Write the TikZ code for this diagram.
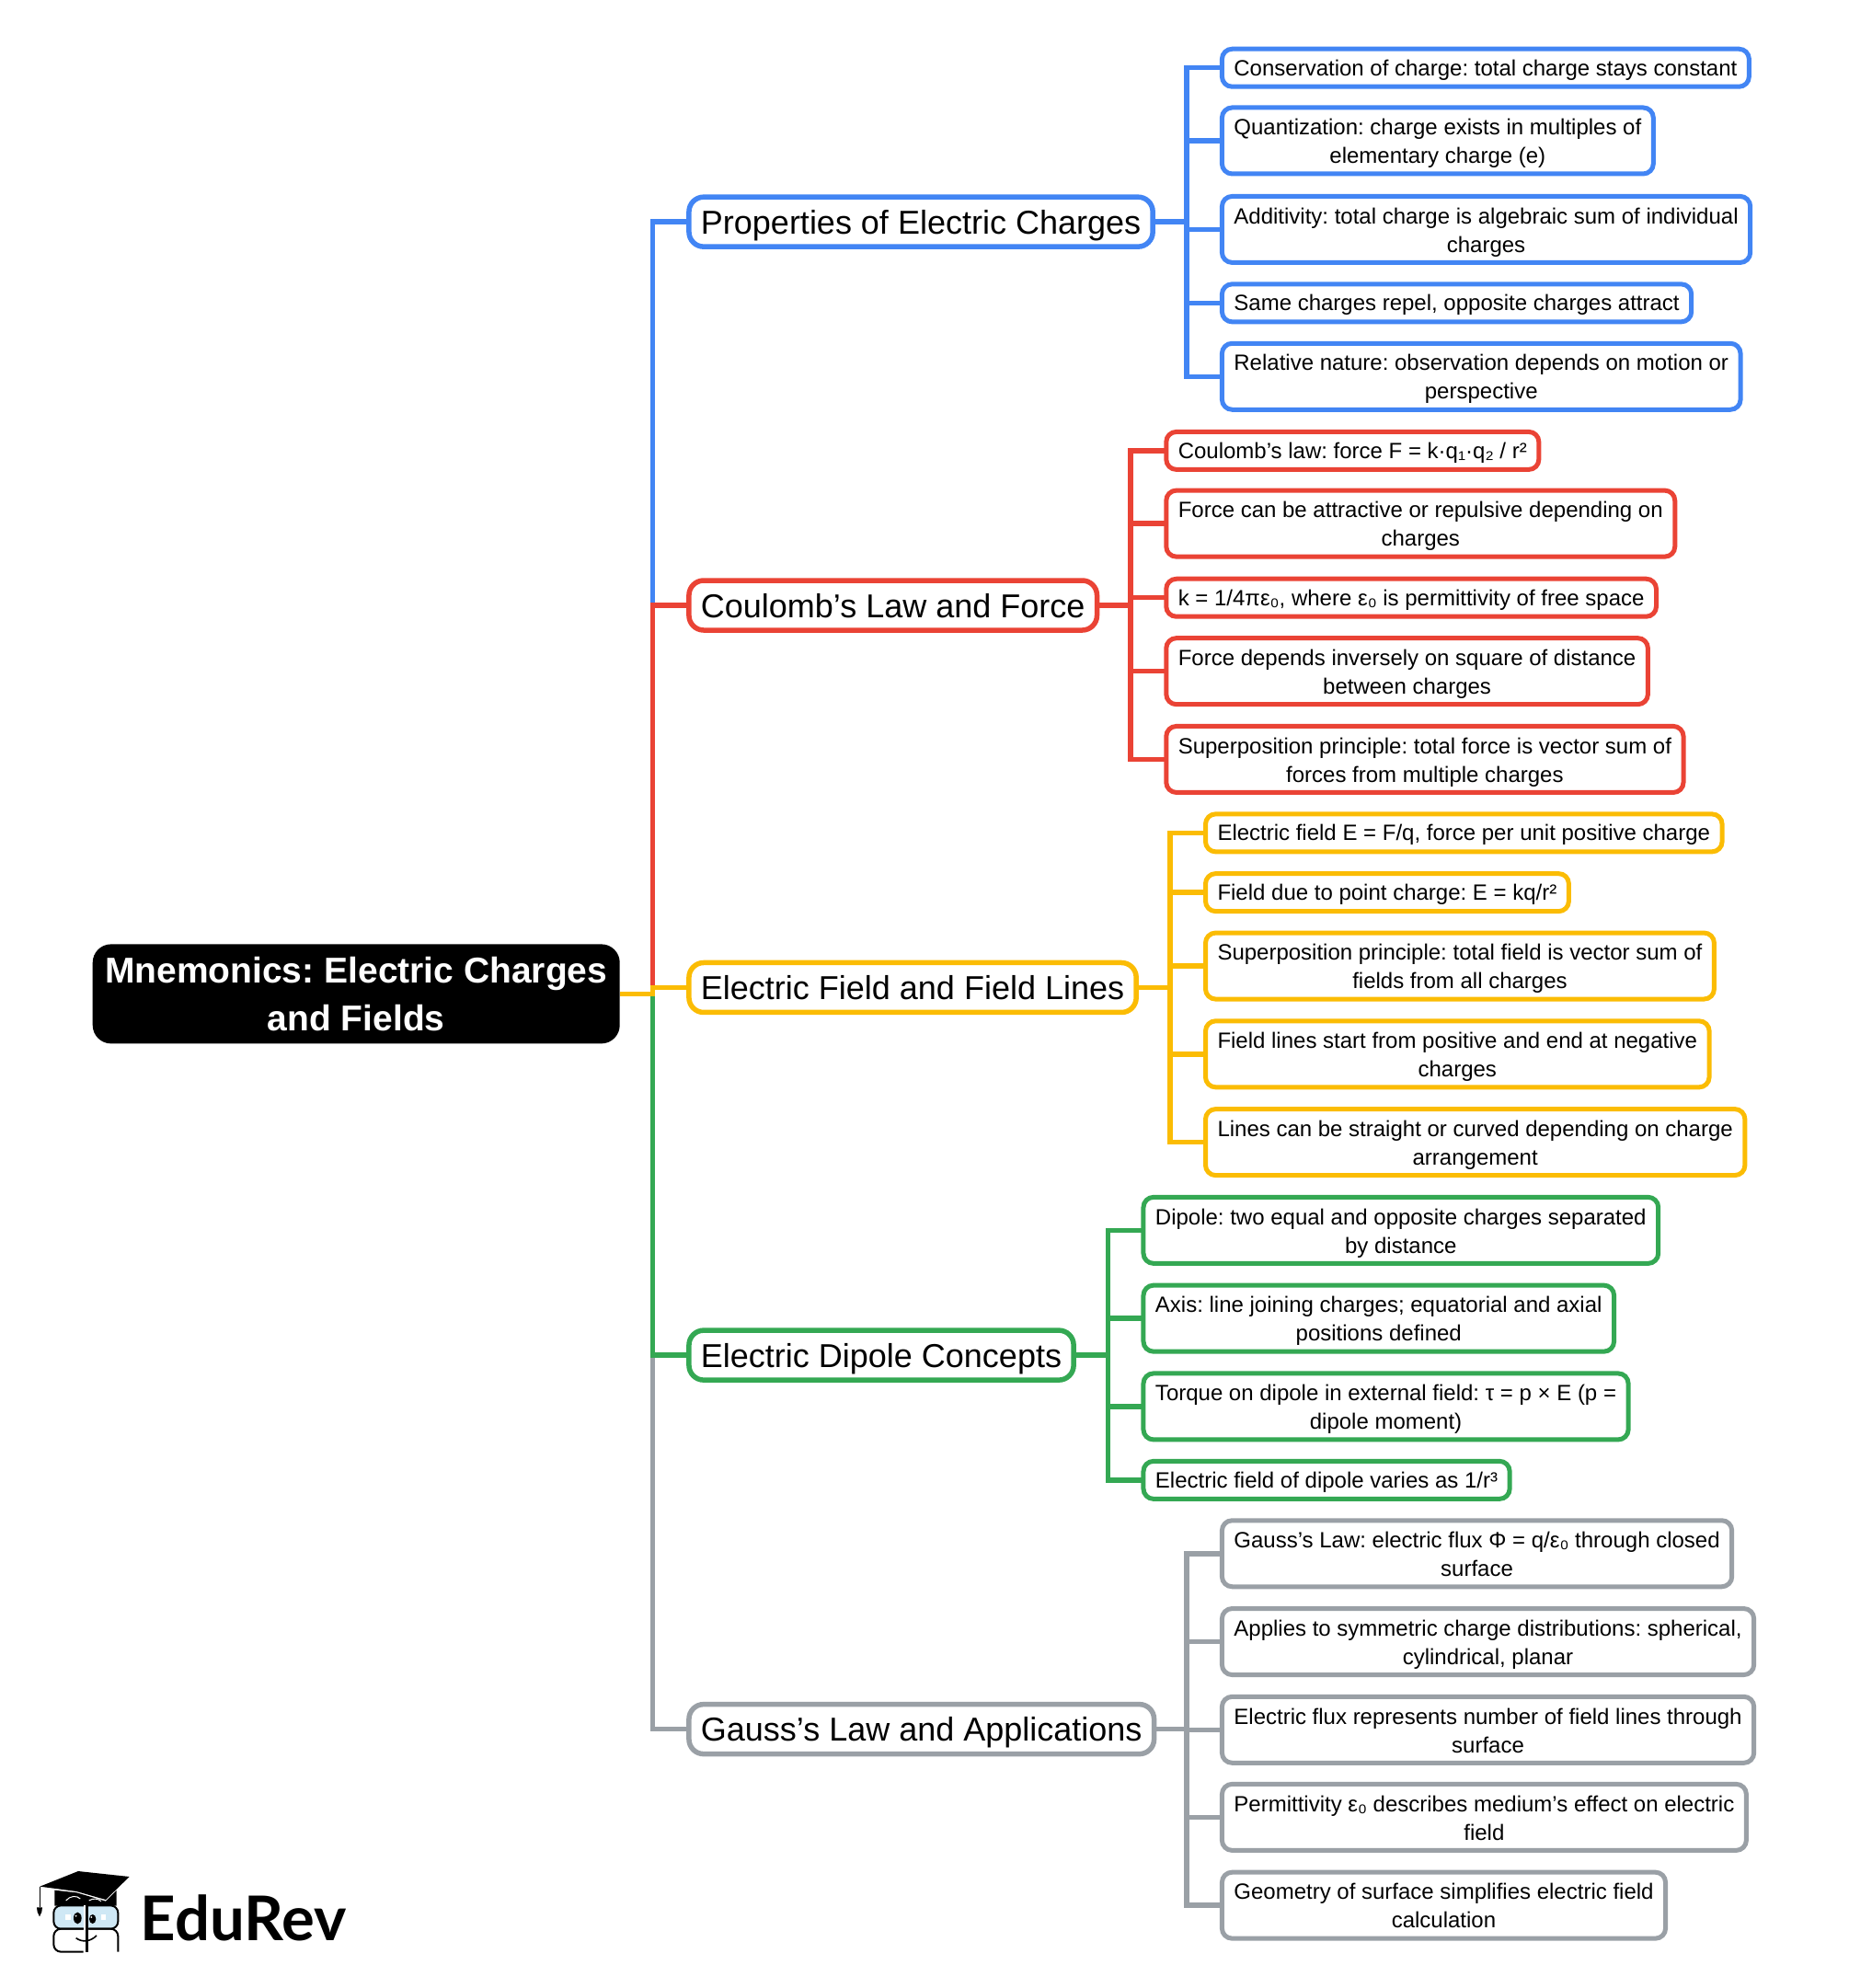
\documentclass[tikz,border=0pt]{standalone}
\usepackage{fontspec}
\setmainfont{Liberation Sans}
\newfontfamily\logofont{Lato}
\usetikzlibrary{positioning}
\frenchspacing
\newcommand{\twolines}[2]{\rule{0pt}{24.4pt}#1\\#2\rule[-6pt]{0pt}{6pt}}
\definecolor{bluewire}{HTML}{4285F4}
\definecolor{redwire}{HTML}{EA4335}
\definecolor{yellowwire}{HTML}{FBBC04}
\definecolor{greenwire}{HTML}{34A853}
\definecolor{graywire}{HTML}{9AA0A6}
\definecolor{lenslight}{HTML}{CFE8F5}
\tikzset{
  rootbox/.style={rectangle,rounded corners=20pt,fill=black,text=white,font=\fontsize{39}{51.5}\selectfont\bfseries,align=center,minimum width=573pt,minimum height=108pt,inner sep=0pt},
  branchbox/.style={rectangle,rounded corners=16pt,draw=#1,fill=white,line width=5.5pt,font=\fontsize{36}{44}\selectfont,anchor=west,outer sep=0pt,minimum height=54pt,inner xsep=13pt,inner ysep=0pt,execute at begin node={\rule{0pt}{34pt}},execute at end node={\rule[-8pt]{0pt}{8pt}}},
  leafbox/.style={rectangle,rounded corners=11pt,draw=#1,fill=white,line width=5pt,font=\fontsize{24}{31}\selectfont,align=center,anchor=west,outer sep=0pt,minimum height=41pt,inner xsep=13pt,inner ysep=0pt},
  leafone/.style={leafbox=#1,execute at begin node={\rule{0pt}{23pt}},execute at end node={\rule[-6pt]{0pt}{6pt}}},
  leaftwo/.style={leafbox=#1,minimum height=72pt},
  wire/.style={line width=5.5pt,#1},
}
\begin{document}
\begin{tikzpicture}[x=1.378pt,y=-1.378pt]
\useasboundingbox (0,0) rectangle (1458.6,1568.2);
\coordinate (rootbus) at (515,784);
\coordinate (propbus) at (936,175);
\coordinate (coulbus) at (892,477.5);
\coordinate (fieldbus) at (923,779);
\coordinate (dipolebus) at (874,1069);
\coordinate (gaussbus) at (936,1364);
\node (root) at (281,784) [rootbox] {Mnemonics: Electric Charges\\and Fields};
\node (prop) at (543.5,175) [branchbox=bluewire] {Properties of Electric Charges};
\node (coul) at (543.5,477.5) [branchbox=redwire] {Coulomb’s Law and Force};
\node (field) at (543.5,779) [branchbox=yellowwire] {Electric Field and Field Lines};
\node (dipole) at (543.5,1069) [branchbox=greenwire] {Electric Dipole Concepts};
\node (gauss) at (543.5,1364) [branchbox=graywire] {Gauss’s Law and Applications};
\node (propa) at (964,53.5) [leafone=bluewire] {Conservation of charge: total charge stays constant};
\node (propb) at (964,111) [leaftwo=bluewire] {\twolines{Quantization: charge exists in multiples of}{elementary charge (e)}};
\node (propc) at (964,181) [leaftwo=bluewire] {\twolines{Additivity: total charge is algebraic sum of individual}{charges}};
\node (propd) at (964,239) [leafone=bluewire] {Same charges repel, opposite charges attract};
\node (prope) at (964,297) [leaftwo=bluewire] {\twolines{Relative nature: observation depends on motion or}{perspective}};
\node (coula) at (920,355.5) [leafone=redwire] {Coulomb’s law: force F = k·q₁·q₂ / r²};
\node (coulb) at (920,413) [leaftwo=redwire] {\twolines{Force can be attractive or repulsive depending on}{charges}};
\node (coulc) at (920,471.5) [leafone=redwire] {k = 1/4πε₀, where ε₀ is permittivity of free space};
\node (could) at (920,529.5) [leaftwo=redwire] {\twolines{Force depends inversely on square of distance}{between charges}};
\node (coule) at (920,599) [leaftwo=redwire] {\twolines{Superposition principle: total force is vector sum of}{forces from multiple charges}};
\node (fielda) at (951,657) [leafone=yellowwire] {Electric field E = F/q, force per unit positive charge};
\node (fieldb) at (951,704) [leafone=yellowwire] {Field due to point charge: E = kq/r²};
\node (fieldc) at (951,762) [leaftwo=yellowwire] {\twolines{Superposition principle: total field is vector sum of}{fields from all charges}};
\node (fieldd) at (951,831.5) [leaftwo=yellowwire] {\twolines{Field lines start from positive and end at negative}{charges}};
\node (fielde) at (951,901) [leaftwo=yellowwire] {\twolines{Lines can be straight or curved depending on charge}{arrangement}};
\node (dipolea) at (902,970.5) [leaftwo=greenwire] {\twolines{Dipole: two equal and opposite charges separated}{by distance}};
\node (dipoleb) at (902,1040) [leaftwo=greenwire] {\twolines{Axis: line joining charges; equatorial and axial}{positions defined}};
\node (dipolec) at (902,1109.5) [leaftwo=greenwire] {\twolines{Torque on dipole in external field: τ = p × E (p =}{dipole moment)}};
\node (dipoled) at (902,1167.5) [leafone=greenwire] {Electric field of dipole varies as 1/r³};
\node (gaussa) at (964,1225.5) [leaftwo=graywire] {\twolines{Gauss’s Law: electric flux Φ = q/ε₀ through closed}{surface}};
\node (gaussb) at (964,1295) [leaftwo=graywire] {\twolines{Applies to symmetric charge distributions: spherical,}{cylindrical, planar}};
\node (gaussc) at (964,1364.5) [leaftwo=graywire] {\twolines{Electric flux represents number of field lines through}{surface}};
\node (gaussd) at (964,1433.5) [leaftwo=graywire] {\twolines{Permittivity ε₀ describes medium’s effect on electric}{field}};
\node (gausse) at (964,1503) [leaftwo=graywire] {\twolines{Geometry of surface simplifies electric field}{calculation}};
\draw[wire=bluewire] (root.east) -- (rootbus) |- (prop.west);
\draw[wire=redwire] (root.east) -- (rootbus) |- (coul.west);
\draw[wire=graywire] (root.east) -- (rootbus) |- (gauss.west);
\draw[wire=greenwire] (root.east) -- (rootbus) |- (dipole.west);
\draw[wire=yellowwire] (root.east) -- (rootbus) |- (field.west);
\foreach \leaf in {propa,propb,propc,propd,prope}
  \draw[wire=bluewire] (prop.east) -- (propbus) |- (\leaf.west);
\foreach \leaf in {coula,coulb,coulc,could,coule}
  \draw[wire=redwire] (coul.east) -- (coulbus) |- (\leaf.west);
\foreach \leaf in {fielda,fieldb,fieldc,fieldd,fielde}
  \draw[wire=yellowwire] (field.east) -- (fieldbus) |- (\leaf.west);
\foreach \leaf in {dipolea,dipoleb,dipolec,dipoled}
  \draw[wire=greenwire] (dipole.east) -- (dipolebus) |- (\leaf.west);
\foreach \leaf in {gaussa,gaussb,gaussc,gaussd,gausse}
  \draw[wire=graywire] (gauss.east) -- (gaussbus) |- (\leaf.west);
\begin{scope}[x=.3333pt,y=-.3333pt,shift={(0pt,-1950pt)}]
\fill (130,302) -- (255,252) -- (422,270) -- (345,345) -- (250,318) -- cycle;
\fill (178,314) -- (250,322) -- (345,350) -- (380,315) -- (380,365) -- (178,365) -- cycle;
\draw[line width=1.2pt] (130,302) -- (130,368);
\fill (120,370) -- (138,370) -- (136,385) -- (129,400) -- (122,385) -- cycle;
\draw[white,line width=1pt] (215,348) .. controls (228,332) and (250,330) .. (262,342);
\draw[white,line width=1pt] (290,348) .. controls (303,340) and (318,340) .. (330,350);
\draw[fill=lenslight,line width=2pt,rounded corners=8pt] (175,364) rectangle (385,440);
\draw[line width=2pt,rounded corners=8pt] (272,440) -- (175,440) -- (175,515) -- (272,515);
\draw[line width=2pt,rounded corners=8pt] (290,440) -- (385,440) -- (385,515);
\draw[white,line width=2.4pt] (277,362) -- (277,515);
\draw[line width=2.4pt] (283,362) -- (283,515);
\fill (253,405) ellipse (13 and 19);
\fill (302,408) ellipse (11 and 15);
\fill[white] (248,398) circle (3);
\fill[white] (298,402) circle (3);
\fill[white] (214,394) rectangle (230,410);
\fill[white] (330,394) rectangle (346,410);
\draw[line width=1.6pt] (248,470) .. controls (268,485) and (295,482) .. (315,462);
\node (logotext) at (458,477) [anchor=base west,inner sep=0pt,font=\fontsize{67}{67}\selectfont\logofont\bfseries] {EduRev};
\end{scope}
\end{tikzpicture}
\end{document}
